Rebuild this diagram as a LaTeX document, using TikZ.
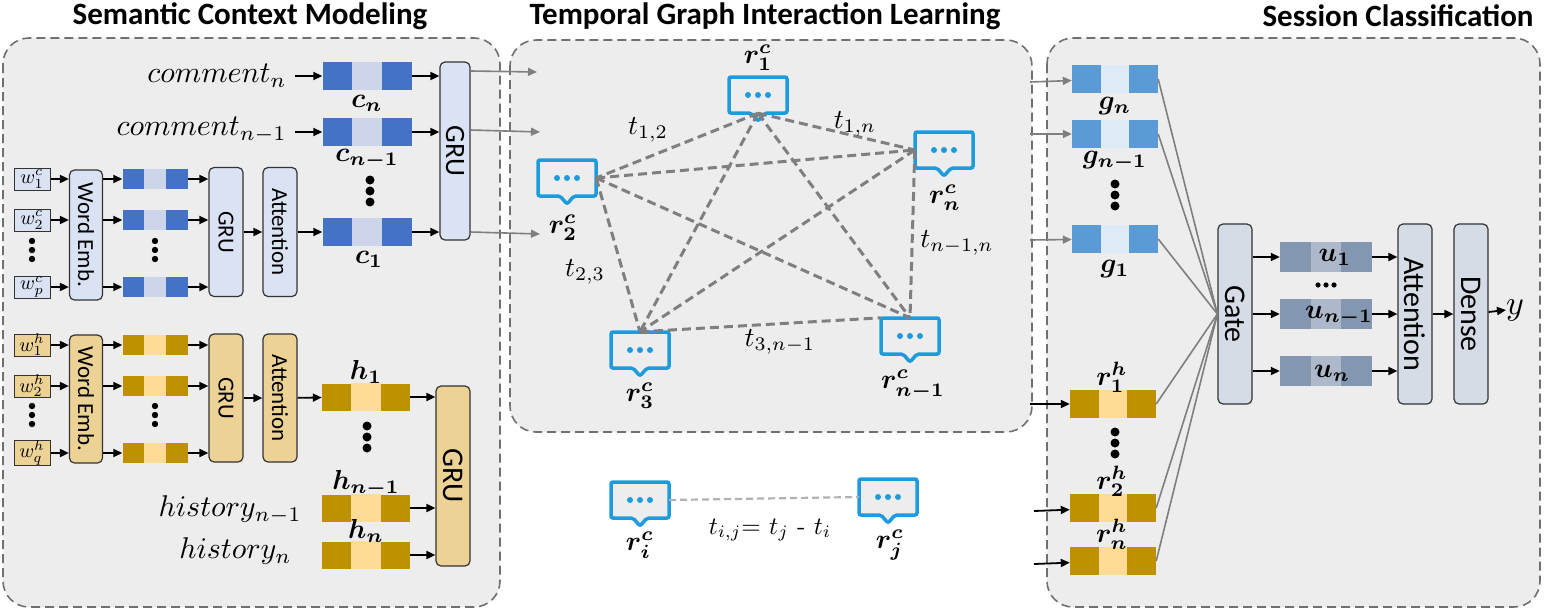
\documentclass[tikz,border=0pt]{standalone}
\usepackage{fontspec}
\setsansfont{Carlito}
\usepackage{amsmath,bm}
\usetikzlibrary{arrows.meta,calc}
\newcommand\M[2][2.75]{\scalebox{#1}{$#2$}}
\definecolor{pbg}{HTML}{EDEDED}
\definecolor{pbd}{HTML}{707070}
\definecolor{cdark}{HTML}{4472C4}
\definecolor{clight}{HTML}{CDD5EA}
\definecolor{cbox}{HTML}{DAE3F3}
\definecolor{hdark}{HTML}{BF9000}
\definecolor{hlight}{HTML}{FFDC96}
\definecolor{hbox}{HTML}{EDD296}
\definecolor{gdark}{HTML}{5B9BD5}
\definecolor{glight}{HTML}{DEEBF7}
\definecolor{udark}{HTML}{8497B0}
\definecolor{ulight}{HTML}{ADB9CA}
\definecolor{rbox}{HTML}{D6DCE5}
\definecolor{bub}{HTML}{1E9BDC}
\definecolor{edg}{HTML}{7F7F7F}
\newcommand\vecnode[7]{%
  \node[inner sep=0,minimum width=#4,minimum height=#5,fill=#6] (#1) at (#2,#3) {};
  \fill[#7] ($(#1.south west)!1/3!(#1.south east)$) rectangle ($(#1.north west)!2/3!(#1.north east)$);}
\newcommand\bubble[3]{%
  \draw[bub,line width=3.5,fill=pbg,rounded corners=2] (#2-7,#3+18) -- (#2-29,#3+18) -- (#2-29,#3-18) -- (#2+29,#3-18) -- (#2+29,#3+18) -- (#2+7,#3+18) -- (#2,#3+26) -- cycle;
  \node[inner sep=0,minimum width=58,minimum height=36] (#1) at (#2,#3) {};
  \foreach \d in {-10,0,10} \fill[bub] (#2+\d,#3) circle (3);}
\newcommand\bigdots[2]{\foreach \d in {0,1,2} \fill (#1,#2+\d*11) circle (4.5);}
\newcommand\sdots[2]{\foreach \d in {0,1,2} \fill (#1,#2+\d*9) circle (3.2);}
\begin{document}
\begin{tikzpicture}[x=1pt,y=-1pt,
  panel/.style={draw=pbd,fill=pbg,dashed,dash pattern=on 9 off 5,line width=1.6,rounded corners=26},
  box/.style={draw=black!80,line width=1.2,rounded corners=5,inner sep=0,minimum width=34,font=\fontsize{23}{25}\sffamily},
  wbox/.style={draw=black!80,line width=1,inner sep=0,minimum width=36,minimum height=22},
  ar/.style={-{Triangle[length=9,width=8]},line width=1.8},
  gar/.style={-{Triangle[length=9,width=8]},line width=1.6,draw=edg},
  ge/.style={draw=edg,line width=3,dash pattern=on 9 off 5},
  lab/.style={inner sep=0},
  title/.style={font=\fontsize{31}{33}\sffamily\bfseries}]
\useasboundingbox[fill=white] (0,0) rectangle (1544,611);
\node[title] at (250,16) {Semantic Context Modeling};
\node[title] at (765,16) {Temporal Graph Interaction Learning};
\node[title] at (1398,16) {Session Classification};
\draw[panel] (3,38) rectangle (500,607);
\draw[panel] (510,40) rectangle (1032,432);
\draw[panel] (1047,38) rectangle (1540,607);
% ---- left: comments
\foreach \i/\y/\t in {1/179/1,2/220/2,3/287/p}
  {\node[wbox,fill=cbox] (wc\i) at (32,\y) {\M[2]{w_{\t}^{c}}};
   \vecnode{ec\i}{155}{\y}{65}{20}{cdark}{clight}}
\node[box,fill=cbox,rotate=-90,minimum width=130,minimum height=33] (embc) at (86,235) {Word Emb.};
\node[box,fill=cbox,rotate=-90,minimum width=129,minimum height=34] (gruc) at (226,232) {GRU};
\node[box,fill=cbox,rotate=-90,minimum width=129,minimum height=34] (attc) at (280,232) {Attention};
\node[box,fill=cbox,rotate=-90,minimum width=178,minimum height=30,font=\fontsize{28}{30}\sffamily] (GRUc) at (455,151) {GRU};
\foreach \i in {1,2,3}{
  \draw[ar] (wc\i) -- (wc\i-|embc.south);
  \draw[ar] (ec\i-|embc.north) -- (ec\i);
  \draw[ar] (ec\i) -- (ec\i-|gruc.south);}
\sdots{32}{241}\sdots{155}{241}
\draw[ar] (gruc) -- (attc);
\vecnode{cn}{367}{76}{89}{28}{cdark}{clight}
\vecnode{cnm}{367}{132}{89}{28}{cdark}{clight}
\vecnode{c1}{367}{232}{89}{28}{cdark}{clight}
\bigdots{370}{180}
\node[lab] at (367,103) {\M{\bm{c_n}}};
\node[lab] at (367,159) {\M{\bm{c_{n-1}}}};
\node[lab] at (369,259) {\M{\bm{c_1}}};
\draw[ar] (attc) -- (c1);
\node[lab,anchor=east] (tcn) at (287,76) {\M[3]{comment_n}};
\node[lab,anchor=east] (tcnm) at (287,130) {\M[3]{comment_{n-1}}};
\draw[ar] (tcn.east)++(8,0) -- (cn);
\draw[ar] (tcnm.east)++(8,2) -- (cnm);
\foreach \v in {cn,cnm,c1} \draw[ar] (\v) -- (\v-|GRUc.south);
% ---- left: history
\foreach \i/\y/\t in {1/345/1,2/386/2,3/453/q}
  {\node[wbox,fill=hbox] (wh\i) at (32,\y) {\M[2]{w_{\t}^{h}}};
   \vecnode{eh\i}{155}{\y}{65}{20}{hdark}{hlight}}
\node[box,fill=hbox,rotate=-90,minimum width=128,minimum height=33] (embh) at (86,399) {Word Emb.};
\node[box,fill=hbox,rotate=-90,minimum width=128,minimum height=34] (gruh) at (226,398) {GRU};
\node[box,fill=hbox,rotate=-90,minimum width=128,minimum height=34] (atth) at (280,398) {Attention};
\node[box,fill=hbox,rotate=-90,minimum width=180,minimum height=34,font=\fontsize{30}{32}\sffamily] (GRUh) at (453,476) {GRU};
\foreach \i in {1,2,3}{
  \draw[ar] (wh\i) -- (wh\i-|embh.south);
  \draw[ar] (eh\i-|embh.north) -- (eh\i);
  \draw[ar] (eh\i) -- (eh\i-|gruh.south);}
\sdots{32}{406}\sdots{155}{406}
\draw[ar] (gruh) -- (atth);
\vecnode{h1}{366}{397}{88}{27}{hdark}{hlight}
\vecnode{hnm}{366}{508}{88}{27}{hdark}{hlight}
\vecnode{hn}{366}{555}{88}{27}{hdark}{hlight}
\bigdots{367}{426}
\node[lab] at (366,372) {\M{\bm{h_1}}};
\node[lab] at (366,484) {\M{\bm{h_{n-1}}}};
\node[lab] at (366,531) {\M{\bm{h_n}}};
\draw[ar] (atth) -- (h1);
\node[lab,anchor=east] (thnm) at (302,510) {\M[3]{history_{n-1}}};
\node[lab,anchor=east] (thn) at (292,551) {\M[3]{history_n}};
\foreach \v in {h1,hnm,hn} \draw[ar] (\v) -- (\v-|GRUh.south);
% ---- middle graph
\bubble{r1}{758}{95}\bubble{r2}{567}{178}\bubble{rn}{944}{150}
\bubble{r3}{640}{350}\bubble{rm}{910}{336}
\node[lab] at (758,58) {\M{\bm{r_1^c}}};
\node[lab] at (563,228) {\M{\bm{r_2^c}}};
\node[lab] at (945,198) {\M{\bm{r_n^c}}};
\node[lab] at (640,396) {\M{\bm{r_3^c}}};
\node[lab] at (913,385) {\M{\bm{r_{n-1}^c}}};
\draw[ge] (r1.south) -- (r2.east);
\draw[ge] (r1.south) -- (rn.west);
\draw[ge] (r1.south) -- (r3.north);
\draw[ge] (r1.south) -- (rm.north);
\draw[ge] (r2.east) -- (rn.west);
\draw[ge] (r2.east) -- (r3.north);
\draw[ge] (r2.east) -- (rm.north);
\draw[ge] (rn.west) -- (r3.north);
\draw[ge] (rn.west) -- (rm.north);
\draw[ge] (r3.north) -- (rm.north west);
\node[lab] at (648,130) {\M{t_{1,2}}};
\node[lab] at (855,124) {\M{t_{1,n}}};
\node[lab] at (585,272) {\M{t_{2,3}}};
\node[lab] at (957,243) {\M{t_{n-1,n}}};
\node[lab] at (780,342) {\M{t_{3,n-1}}};
\bubble{ri}{640}{500}\bubble{rj}{888}{497}
\node[lab] at (640,545) {\M{\bm{r_i^c}}};
\node[lab] at (890,545) {\M{\bm{r_j^c}}};
\draw[edg!60,line width=2.2,dash pattern=on 7 off 4] (ri.east) -- (rj.west);
\node[lab] at (770,530) {\M[2.5]{t_{i,j}\text{= }t_j\text{ - }t_i}};
% gray arrows left->middle
\draw[gar] (GRUc.north|-0,71) -- (537,72);
\draw[gar] (GRUc.north|-0,130) -- (540,132);
\draw[gar] (GRUc.north|-0,232) -- (540,234);
% ---- right
\vecnode{gn}{1115}{79}{86}{28}{gdark}{glight}
\vecnode{gnm}{1115}{134}{86}{28}{gdark}{glight}
\vecnode{g1}{1115}{239}{86}{28}{gdark}{glight}
\bigdots{1115}{184}
\node[lab] at (1115,106) {\M{\bm{g_n}}};
\node[lab] at (1115,161) {\M{\bm{g_{n-1}}}};
\node[lab] at (1115,269) {\M{\bm{g_1}}};
\coordinate (o1) at (1030,82);\coordinate (o2) at (1030,134);\coordinate (o3) at (1030,240);
\draw[gar] (o1) -- (gn);\draw[gar] (o2) -- (gnm);\draw[gar] (o3) -- (g1);
\vecnode{rh1}{1113}{404}{86}{28}{hdark}{hlight}
\vecnode{rh2}{1113}{508}{86}{28}{hdark}{hlight}
\vecnode{rhn}{1113}{561}{86}{28}{hdark}{hlight}
\bigdots{1115}{432}
\node[lab] at (1112,377) {\M{\bm{r_1^h}}};
\node[lab] at (1112,481) {\M{\bm{r_2^h}}};
\node[lab] at (1112,534) {\M{\bm{r_n^h}}};
\coordinate (i1) at (1030,404);\coordinate (i2) at (1034,511);\coordinate (i3) at (1034,564);
\draw[ar] (i1) -- (rh1);\draw[ar] (i2) -- (rh2);\draw[ar] (i3) -- (rhn);
\node[box,fill=rbox,rotate=-90,minimum width=180,minimum height=34,font=\fontsize{30}{32}\sffamily] (gate) at (1235,314) {Gate};
\foreach \v in {gn,gnm,g1,rh1,rh2,rhn} \draw[edg,line width=1.6] (\v.east) -- (gate.south);
\vecnode{u1}{1326}{257}{92}{30}{udark}{ulight}
\vecnode{um}{1326}{314}{92}{30}{udark}{ulight}
\vecnode{un}{1326}{371}{92}{30}{udark}{ulight}
\node[lab] at (1335,257) {\M{\bm{u_1}}};
\node[lab] at (1339,316) {\M{\bm{u_{n-1}}}};
\node[lab] at (1332,373) {\M{\bm{u_n}}};
\foreach \d in {-8,0,8} \fill (1326+\d,285) circle (2.6);
\node[box,fill=rbox,rotate=-90,minimum width=180,minimum height=34,font=\fontsize{30}{32}\sffamily] (attr) at (1415,314) {Attention};
\node[box,fill=rbox,rotate=-90,minimum width=180,minimum height=34,font=\fontsize{30}{32}\sffamily] (dense) at (1471,314) {Dense};
\foreach \v in {u1,um,un}{\draw[ar] (\v-|gate.north) -- (\v); \draw[ar] (\v) -- (\v-|attr.south);}
\draw[ar] (attr) -- (dense);
\node[lab,anchor=west] (y) at (1506,310) {\M[3.4]{y}};
\draw[ar] (dense) -- (y.west);
\end{tikzpicture}
\end{document}
